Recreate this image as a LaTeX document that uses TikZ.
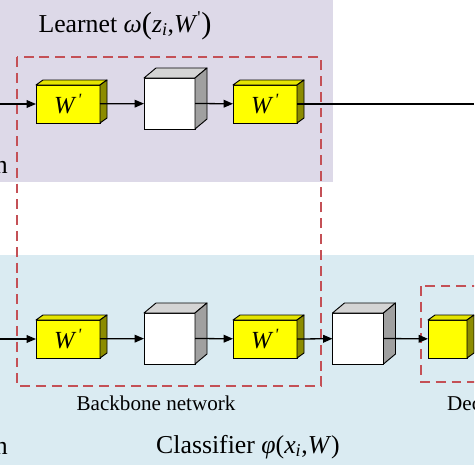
\documentclass[tikz,border=0pt]{standalone}
\usepackage{fontspec}
\setmainfont{Liberation Serif}
\usetikzlibrary{arrows.meta,calc}

\definecolor{learnbg}{RGB}{221,217,232}
\definecolor{classbg}{RGB}{218,235,242}
\definecolor{dashred}{RGB}{196,80,86}
\definecolor{wfront}{RGB}{255,255,0}
\definecolor{wtop}{RGB}{228,228,0}
\definecolor{wside}{RGB}{140,140,0}
\definecolor{ctop}{RGB}{212,212,212}
\definecolor{cside}{RGB}{160,160,160}

% top and right faces of a block: node, dx, dy, top colour, side colour
\newcommand{\depthfaces}[5]{
  \filldraw[fill=#4, draw=black, line width=0.8pt, line join=round]
    (#1.north west) -- ($(#1.north west)+(#2,#3)$) -- ($(#1.north east)+(#2,#3)$) -- (#1.north east) -- cycle;
  \filldraw[fill=#5, draw=black, line width=0.8pt, line join=round]
    (#1.north east) -- ($(#1.north east)+(#2,#3)$) -- ($(#1.south east)+(#2,#3)$) -- (#1.south east) -- cycle;
}

\begin{document}
\begin{tikzpicture}[
    x=0.03cm, y=-0.03cm,
    >={Triangle[length=2.8mm,width=2.3mm]},
    wblock/.style={rectangle, draw=black, line width=0.8pt, fill=wfront, outer sep=0pt,
                   minimum width=1.92cm, minimum height=1.14cm, inner sep=0pt,
                   font=\fontsize{21}{22}\selectfont\itshape},
    cube/.style={rectangle, draw=black, line width=0.8pt, fill=white, outer sep=0pt,
                 minimum width=1.53cm, minimum height=1.53cm, inner sep=0pt},
    decblock/.style={wblock, minimum width=1.17cm},
    dashbox/.style={draw=dashred, line width=1.2pt, dash pattern=on 8.5pt off 5pt},
    arr/.style={->, line width=1.1pt, black},
    plain/.style={-, line width=1.1pt, black},
    title/.style={font=\fontsize{22}{24}\selectfont, anchor=base, inner sep=0pt},
    caption/.style={font=\fontsize{18}{20}\selectfont, anchor=base, inner sep=0pt},
]
  \clip (0,0) rectangle (474,474);

  % Bands
  \fill[learnbg] (0,0) rectangle (333,182);
  \fill[classbg] (0,255) rectangle (474,465);

  % Dashed boxes
  \draw[dashbox] (17,57) rectangle (321,386);
  \draw[dashbox] (421,286) rectangle (490,382);

  % Learnet row
  \coordinate (lin) at (0,104);
  \coordinate (lout) at (474,104);
  \node[wblock] (lw1) at (68,104) {W\textsuperscript{\,\textquotesingle}};
  \node[cube] (lc1) at (169.5,103.5) {};
  \node[wblock] (lw2) at (265,104) {W\textsuperscript{\,\textquotesingle}};

  % Classifier row
  \coordinate (cin) at (0,339);
  \node[wblock] (cw1) at (68,339) {W\textsuperscript{\,\textquotesingle}};
  \node[cube] (cc1) at (169.5,338.5) {};
  \node[wblock] (cw2) at (265,339) {W\textsuperscript{\,\textquotesingle}};
  \node[cube] (cc2) at (358,338.5) {};
  \node[decblock] (dec) at (447.5,339) {};

  % Depth faces
  \foreach \n in {lw1,lw2,cw1,cw2,dec} {
    \depthfaces{\n}{7}{-5}{wtop}{wside}
  }
  \foreach \n in {lc1,cc1,cc2} {
    \depthfaces{\n}{12}{-10}{ctop}{cside}
  }

  % Connectors
  \draw[arr] (lin) -- (lw1);
  \draw[arr] (lw1) -- (lc1);
  \draw[arr] (lc1.east) -- (lw2);
  \draw[plain] (lw2.east) -- (lout);

  \draw[arr] (cin) -- (cw1);
  \draw[arr] (cw1) -- (cc1);
  \draw[arr] (cc1.east) -- (cw2);
  \draw[arr] (cw2.east) -- (cc2);
  \draw[arr] (cc2.east) -- (dec);

  % Labels
  \node[title] (ltitle) at (125,32)
    {Learnet \textit{ω}\raisebox{-1pt}{\fontsize{26}{26}\selectfont(}\textit{z}\textsubscript{\textit{i}},\textit{W}\textsuperscript{\textquotesingle}\raisebox{-1pt}{\fontsize{26}{26}\selectfont)}};
  \node[title] (ctitle) at (248,453)
    {Classifier \textit{φ}(\textit{x}\textsubscript{\textit{i}},\textit{W})};
  \node[caption] (backbone) at (156,410) {Backbone network};
  \node[caption, anchor=base west] (decoder) at (447,410) {Decoder};
  \node[title, anchor=base east] (ln) at (8,173) {n};
  \node[title, anchor=base east] (cn) at (8,454) {n};

\end{tikzpicture}
\end{document}
